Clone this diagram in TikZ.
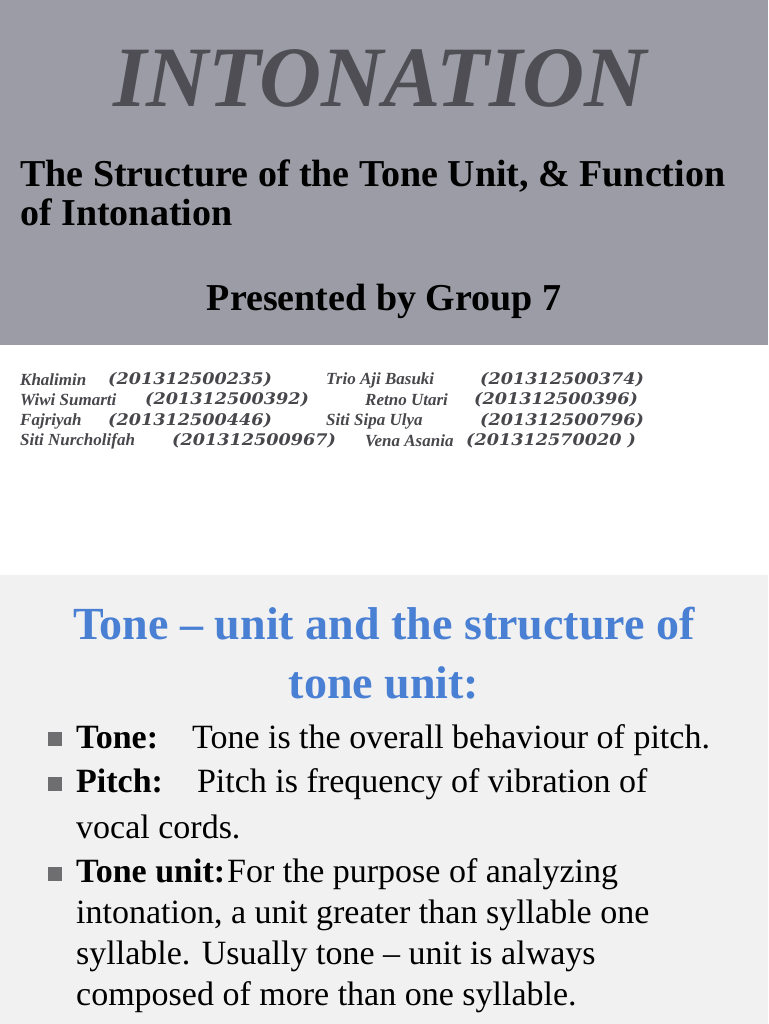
\documentclass[tikz,border=0pt]{standalone}
\usepackage{fontspec}
\setmainfont{Liberation Serif}
\newfontfamily\nmfont{DejaVu Serif}
\definecolor{band}{HTML}{9C9CA6}
\definecolor{ttl}{HTML}{4E4E54}
\definecolor{nm}{HTML}{47474C}
\definecolor{hd}{HTML}{4A80D4}
\definecolor{bg2}{HTML}{F1F1F1}
\definecolor{bul}{HTML}{6E6E70}
\begin{document}
\begin{tikzpicture}[x=1pt,y=-1pt,
  nmtxt/.style={anchor=west,inner sep=0pt,text=nm,font=\fontsize{17}{19}\selectfont\bfseries\itshape},
  idtxt/.style={anchor=west,inner sep=0pt,text=nm,font=\nmfont\fontsize{16}{18}\selectfont\bfseries\itshape,xscale=1.1},
  body/.style={anchor=west,inner sep=0pt,font=\fontsize{34}{38}\selectfont},
  bsq/.style={fill=bul}]
\useasboundingbox (0,0) rectangle (768,1024);
\fill[white] (0,0) rectangle (768,1024);
\fill[band] (0,0) rectangle (768,345);
\fill[bg2] (0,575) rectangle (768,1024);
\node[text=ttl,font=\fontsize{86}{90}\selectfont\bfseries\itshape,inner sep=0pt] (title) at (380,78) {INTONATION};
\node[anchor=west,inner sep=0pt,font=\fontsize{38}{42}\selectfont\bfseries] (s1) at (20,176) {The Structure of the Tone Unit, \& Function};
\node[anchor=west,inner sep=0pt,font=\fontsize{38}{42}\selectfont\bfseries] (s2) at (20,212) {of Intonation};
\node[inner sep=0pt,font=\fontsize{38}{42}\selectfont\bfseries] (pres) at (384,301) {Presented by Group 7};
% names
\node[nmtxt] (n1) at (20,380) {Khalimin};
\node[idtxt] (i1) at (108,380) {(201312500235)};
\node[nmtxt] (n5) at (326,380) {Trio Aji Basuki};
\node[idtxt] (i5) at (480,380) {(201312500374)};
\node[nmtxt] (n2) at (20,400) {Wiwi Sumarti};
\node[idtxt] (i2) at (145,400) {(201312500392)};
\node[nmtxt] (n6) at (365,400) {Retno Utari};
\node[idtxt] (i6) at (474,400) {(201312500396)};
\node[nmtxt] (n3) at (20,421) {Fajriyah};
\node[idtxt] (i3) at (108,421) {(201312500446)};
\node[nmtxt] (n7) at (326,421) {Siti Sipa Ulya};
\node[idtxt] (i7) at (480,421) {(201312500796)};
\node[nmtxt] (n4) at (20,441) {Siti Nurcholifah};
\node[idtxt] (i4) at (172,441) {(201312500967)};
\node[nmtxt] (n8) at (365,441) {Vena Asania};
\node[idtxt] (i8) at (466,441) {(201312570020 )};
% slide 2
\node[text=hd,inner sep=0pt,font=\fontsize{46}{50}\selectfont\bfseries] (h1) at (384,624) {Tone -- unit and the structure of};
\node[text=hd,inner sep=0pt,font=\fontsize{46}{50}\selectfont\bfseries] (h2) at (384,683) {tone unit:};
\fill[bsq] (48,732) rectangle (62,746);
\node[body] (b1) at (76,740) {\textbf{Tone:}\quad Tone is the overall behaviour of pitch.};
\fill[bsq] (48,777) rectangle (62,791);
\node[body] (b2) at (76,784) {\textbf{Pitch:}\quad Pitch is frequency of vibration of};
\node[body] (b2b) at (76,827) {vocal cords.};
\fill[bsq] (48,867) rectangle (62,881);
\node[body] (b3) at (76,874) {\textbf{Tone unit:}\kern2pt For the purpose of analyzing};
\node[body] (b3b) at (76,915) {intonation, a unit greater than syllable one};
\node[body] (b3c) at (76,956) {syllable. Usually tone -- unit is always};
\node[body] (b3d) at (76,997) {composed of more than one syllable.};
\end{tikzpicture}
\end{document}
